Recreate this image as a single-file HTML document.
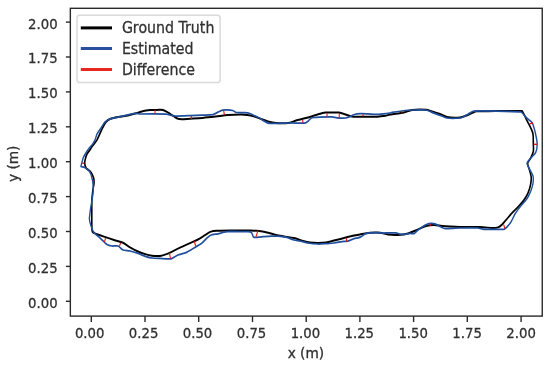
<!DOCTYPE html>
<html lang="en"><head><meta charset="utf-8"><title>Trajectory plot</title>
<style>
html,body{margin:0;padding:0;background:#fff;}
body{width:550px;height:367px;overflow:hidden;}
svg{display:block;filter:blur(0.35px);}
svg text{font-family:"DejaVu Sans","Liberation Sans",sans-serif;font-size:15.7px;fill:#303030;stroke:#303030;stroke-width:0.3px;}
</style></head><body>
<svg width="550" height="367" viewBox="0 0 550 367">
<rect x="0" y="0" width="550" height="367" fill="#ffffff"/>

<g fill="none" stroke-linejoin="round" stroke-linecap="round" transform="scale(0.8,1)">
<path d="M105.88,163.20 C105.75,161.68 106.29,160.16 106.75,158.70 C107.21,157.24 107.92,155.33 108.75,154.00 C109.58,152.67 110.87,151.70 111.88,150.50 C112.88,149.30 114.22,147.44 115.50,146.00 C116.78,144.56 119.65,142.26 121.25,140.00 C122.85,137.74 125.98,131.43 127.50,129.00 C129.02,126.57 131.13,123.37 132.50,122.00 C133.87,120.63 135.66,119.61 137.50,119.00 C139.34,118.39 144.14,117.54 147.50,117.00 C150.86,116.46 157.06,115.87 160.00,115.40 C162.94,114.93 166.24,114.16 168.75,113.60 C171.26,113.04 174.18,112.25 176.25,111.80 C178.32,111.35 180.84,110.87 182.50,110.60 C184.16,110.33 185.82,110.09 187.50,110.00 C189.18,109.91 193.75,109.90 196.25,109.90 C198.75,109.90 201.45,109.54 203.75,110.00 C206.05,110.46 208.12,111.71 210.25,112.70 C212.38,113.69 215.18,115.30 217.00,116.20 C218.82,117.10 220.89,118.34 222.50,118.80 C224.11,119.26 225.83,119.21 227.50,119.20 C229.17,119.19 234.17,118.87 237.50,118.70 C240.83,118.53 248.09,118.25 253.37,117.90 C258.66,117.55 264.08,117.07 269.38,116.60 C274.67,116.13 279.97,115.43 285.25,115.10 C290.53,114.77 298.46,114.62 301.12,114.60 C303.79,114.58 306.48,114.63 309.12,114.90 C311.77,115.17 314.41,115.60 317.00,116.20 C319.59,116.80 322.33,117.83 325.00,118.60 C327.67,119.37 331.70,120.67 335.00,121.40 C338.30,122.13 341.63,122.78 345.00,123.00 C348.37,123.22 356.59,123.33 360.00,123.00 C363.41,122.67 366.65,121.33 370.00,120.60 C373.35,119.87 378.35,119.03 382.50,118.10 C386.65,117.17 392.29,115.67 395.00,115.00 C397.71,114.33 401.89,113.26 403.12,113.00 C404.36,112.74 405.62,112.56 406.88,112.50 C408.13,112.44 412.29,112.38 415.00,112.40 C417.71,112.42 420.99,112.26 423.75,112.60 C426.51,112.94 429.25,113.88 431.88,114.50 C434.50,115.12 437.11,116.02 439.75,116.40 C442.39,116.78 445.08,116.75 447.75,116.80 C450.42,116.85 459.46,116.81 462.50,116.80 C465.54,116.79 468.99,116.81 471.62,116.70 C474.26,116.59 476.89,116.45 479.50,116.10 C482.11,115.75 485.84,114.87 487.50,114.60 C489.16,114.33 490.83,114.21 492.50,114.00 C494.17,113.79 501.62,113.00 505.00,112.40 C508.38,111.80 511.59,110.32 515.00,110.00 C518.41,109.68 529.95,109.66 532.50,109.80 C535.05,109.94 537.51,110.80 540.00,111.40 C542.49,112.00 547.05,113.12 550.00,114.00 C552.95,114.88 555.69,116.58 558.75,117.00 C561.81,117.42 571.58,117.66 575.00,117.40 C578.42,117.14 582.85,115.65 585.00,115.00 C587.15,114.35 589.82,113.00 591.25,112.50 C592.68,112.00 594.11,111.37 595.62,111.30 C597.14,111.23 611.54,111.13 619.50,111.10 C627.46,111.07 651.98,111.08 652.50,111.10 C653.02,111.12 653.32,111.77 653.62,112.20 C653.93,112.63 655.05,114.46 655.75,115.60 C656.45,116.74 657.97,119.35 659.12,121.20 C660.28,123.05 661.73,125.10 662.75,126.80 C663.77,128.50 665.11,130.74 665.62,132.00 C666.14,133.26 666.38,134.64 666.50,136.00 C666.62,137.36 666.60,140.93 666.62,143.40 C666.65,145.87 667.25,148.85 666.62,151.40 C666.00,153.95 663.85,157.07 662.87,158.70 C661.90,160.33 659.69,161.47 659.50,163.30 C659.31,165.13 661.04,167.55 661.75,169.70 C662.46,171.85 663.77,174.46 664.00,177.00 C664.23,179.54 663.78,182.40 663.12,185.00 C662.47,187.60 661.35,190.50 660.00,193.00 C658.65,195.50 656.91,197.86 655.00,200.00 C653.09,202.14 649.92,204.90 647.50,207.00 C645.08,209.10 642.42,210.90 640.00,213.00 C637.58,215.10 634.16,218.46 632.50,220.00 C630.84,221.54 629.04,223.46 627.50,224.60 C625.96,225.74 624.34,226.90 622.50,227.40 C620.66,227.90 617.51,228.04 615.00,228.00 C612.49,227.96 605.01,227.13 600.00,227.00 C594.99,226.87 579.17,227.04 575.00,227.00 C570.83,226.96 565.84,226.75 562.50,226.60 C559.16,226.45 555.83,226.27 552.50,226.00 C549.17,225.73 545.83,225.00 542.50,225.00 C539.17,225.00 535.77,225.28 532.50,226.00 C529.23,226.72 525.84,228.30 522.50,229.40 C519.16,230.50 514.10,232.50 510.00,233.40 C505.90,234.30 501.66,234.72 497.50,234.90 C493.34,235.08 488.37,234.83 485.00,234.50 C481.63,234.17 478.38,232.96 475.00,232.70 C471.62,232.44 466.66,232.50 462.50,232.80 C458.34,233.10 452.50,234.15 450.00,234.50 C447.50,234.85 444.99,235.16 442.50,235.60 C440.01,236.04 434.16,237.17 430.00,238.00 C425.84,238.83 420.83,239.92 417.50,240.60 C414.17,241.28 410.81,242.20 407.50,242.60 C404.19,243.00 400.83,243.00 397.50,243.00 C394.17,243.00 390.81,243.00 387.50,242.60 C384.19,242.20 380.81,241.36 377.50,240.60 C374.19,239.84 370.89,238.63 367.50,238.00 C364.11,237.37 358.34,236.84 355.00,236.40 C351.66,235.96 348.16,235.59 345.00,235.00 C341.84,234.41 338.73,233.43 335.62,232.80 C332.52,232.17 329.40,231.51 326.25,231.20 C323.10,230.89 317.09,230.59 312.50,230.50 C307.91,230.41 292.50,230.37 287.50,230.40 C282.50,230.43 275.43,230.55 272.50,230.70 C269.57,230.85 266.42,230.86 263.75,231.60 C261.08,232.34 258.74,233.99 256.25,235.20 C253.76,236.41 250.49,238.24 247.50,239.50 C244.51,240.76 240.83,241.90 237.50,243.10 C234.17,244.30 229.14,246.03 225.00,247.60 C220.86,249.17 214.55,251.83 212.50,252.60 C210.45,253.37 207.69,254.18 206.25,254.60 C204.81,255.02 203.37,255.53 201.88,255.70 C200.38,255.87 196.67,255.89 195.00,255.90 C193.33,255.91 191.66,256.00 190.00,255.80 C188.34,255.60 184.97,255.01 182.50,254.40 C180.03,253.79 175.78,252.65 172.50,251.50 C169.22,250.35 165.49,248.79 162.50,247.40 C159.51,246.01 156.84,243.94 153.75,242.80 C150.66,241.66 146.24,240.98 142.50,240.00 C138.76,239.02 133.55,237.58 130.00,236.60 C126.45,235.62 120.44,233.93 119.38,233.60 C118.31,233.27 116.95,232.97 116.25,232.40 C115.55,231.83 115.13,230.89 115.00,230.00 C114.87,229.11 114.79,224.67 114.75,222.00 C114.71,219.33 114.73,215.33 114.75,212.00 C114.77,208.67 114.70,202.75 114.88,199.70 C115.05,196.65 115.61,193.05 116.00,190.60 C116.39,188.15 117.36,185.14 117.50,183.30 C117.64,181.46 117.60,179.54 117.00,177.80 C116.40,176.06 115.20,173.92 113.75,172.40 C112.30,170.88 108.56,169.04 107.50,167.80 C106.44,166.56 106.00,164.72 105.88,163.20" stroke="#000000" stroke-width="2.0"/>
<path d="M101.25,166.50 C100.90,166.02 102.01,163.97 102.25,163.20 C102.49,162.43 103.37,158.97 104.00,157.80 C104.63,156.63 107.78,152.48 108.62,151.40 C109.47,150.32 111.97,147.53 112.50,147.00 C113.03,146.47 114.50,145.56 115.00,145.00 C115.50,144.44 118.03,141.27 118.75,140.00 C119.47,138.73 120.45,135.29 121.25,134.00 C122.05,132.71 125.08,129.40 126.25,128.00 C127.42,126.60 129.99,123.01 131.25,122.00 C132.51,120.99 135.95,119.45 137.50,119.00 C139.05,118.55 147.09,117.14 150.00,116.60 C152.91,116.06 160.76,114.68 162.50,114.40 C164.24,114.12 168.83,113.44 170.00,113.40 C171.17,113.36 173.83,113.98 175.00,114.00 C176.17,114.02 206.31,113.97 207.50,114.00 C208.69,114.03 211.33,114.81 212.50,115.00 C213.67,115.19 218.24,115.96 220.00,116.00 C221.76,116.04 233.80,115.70 237.50,115.60 C241.20,115.50 250.40,115.20 253.37,115.10 C256.35,115.00 264.55,114.85 266.12,114.60 C267.70,114.35 271.20,112.59 272.50,112.10 C273.80,111.61 276.87,110.36 278.12,110.10 C279.38,109.84 282.34,109.76 283.62,109.80 C284.91,109.84 289.55,110.23 290.75,110.50 C291.95,110.77 294.41,112.32 295.62,112.50 C296.84,112.68 304.38,112.61 305.87,112.70 C307.37,112.79 310.80,113.14 312.25,113.50 C313.70,113.86 317.14,115.34 318.62,115.90 C320.11,116.46 323.79,117.76 325.00,118.30 C326.21,118.84 328.79,120.45 330.00,121.00 C331.21,121.55 334.70,123.19 336.25,123.40 C337.80,123.61 344.88,123.44 347.50,123.40 C350.12,123.36 359.00,123.03 362.50,123.00 C366.00,122.97 379.53,123.21 380.75,123.10 C381.97,122.99 384.67,121.40 385.50,120.90 C386.33,120.40 387.95,118.69 388.75,118.30 C389.55,117.91 391.61,117.59 392.50,117.50 C393.39,117.41 398.25,117.15 400.00,117.10 C401.75,117.05 413.53,116.85 415.00,116.90 C416.47,116.95 419.78,117.70 421.25,117.80 C422.72,117.90 430.74,118.07 431.88,118.00 C433.01,117.93 435.54,117.24 436.62,116.90 C437.71,116.56 441.45,114.85 443.00,114.50 C444.55,114.15 449.03,113.77 450.87,113.70 C452.72,113.63 457.87,113.84 460.00,113.90 C462.13,113.96 469.02,114.33 471.62,114.30 C474.23,114.27 481.64,113.69 482.75,113.60 C483.86,113.51 486.91,113.10 487.50,113.00 C488.09,112.90 489.41,112.48 490.00,112.40 C490.59,112.32 499.59,111.28 502.50,111.00 C505.41,110.72 512.08,110.10 515.00,110.00 C517.92,109.90 530.07,109.72 532.50,110.00 C534.93,110.28 540.18,112.50 542.50,113.20 C544.82,113.90 551.03,115.57 552.50,116.00 C553.97,116.43 557.22,117.86 558.75,118.00 C560.28,118.14 574.10,118.05 575.00,118.00 C575.90,117.95 577.90,117.32 578.75,117.00 C579.60,116.68 583.54,114.84 585.00,114.20 C586.46,113.56 590.32,111.26 592.12,111.10 C593.93,110.94 613.11,111.00 619.50,111.10 C625.89,111.20 649.81,111.81 651.25,112.00 C652.69,112.19 655.19,115.33 656.00,116.00 C656.81,116.67 658.65,118.19 659.50,118.80 C660.35,119.41 664.02,121.23 665.00,122.40 C665.98,123.57 667.31,127.26 667.87,128.80 C668.44,130.34 669.59,134.30 670.00,136.00 C670.41,137.70 671.53,142.10 671.50,144.00 C671.47,145.90 670.75,150.59 669.75,152.30 C668.75,154.01 663.89,157.68 662.87,158.70 C661.86,159.72 658.88,162.12 658.75,163.30 C658.62,164.48 661.01,167.54 661.75,168.80 C662.49,170.06 665.74,174.35 666.25,176.00 C666.76,177.65 666.51,181.79 666.25,183.40 C665.99,185.01 664.65,188.53 664.00,190.00 C663.35,191.47 661.27,195.01 660.62,196.00 C659.98,196.99 658.32,199.15 657.50,200.00 C656.68,200.85 651.53,205.44 650.00,207.00 C648.47,208.56 645.06,212.25 643.75,214.00 C642.44,215.75 639.76,220.69 638.75,222.00 C637.74,223.31 634.54,226.33 633.75,227.00 C632.96,227.67 631.04,229.31 630.00,229.40 C628.96,229.49 606.78,229.48 605.00,229.40 C603.22,229.32 599.28,228.08 597.50,228.00 C595.72,227.92 579.52,227.95 575.00,228.00 C570.48,228.05 557.18,228.61 555.62,228.50 C554.07,228.39 550.70,226.73 549.38,226.20 C548.05,225.67 545.15,224.06 543.75,223.80 C542.35,223.54 537.35,223.52 536.00,223.70 C534.65,223.88 531.73,225.03 530.50,225.60 C529.27,226.17 523.72,229.25 522.50,230.00 C521.28,230.75 518.61,233.22 517.50,233.60 C516.39,233.98 513.67,233.33 512.50,233.40 C511.33,233.47 507.71,234.21 506.25,234.30 C504.79,234.39 501.20,234.36 500.00,234.20 C498.80,234.04 496.21,232.90 495.00,232.80 C493.79,232.70 486.46,232.87 485.00,232.90 C483.54,232.93 480.21,233.13 478.75,233.10 C477.29,233.06 473.96,232.63 472.50,232.60 C471.04,232.57 464.59,232.71 463.12,232.80 C461.66,232.89 458.26,233.12 456.88,233.60 C455.49,234.08 452.11,236.64 450.50,237.20 C448.89,237.76 444.34,238.14 442.50,238.60 C440.66,239.06 436.10,240.88 434.50,241.20 C432.90,241.52 429.13,241.43 427.50,241.60 C425.87,241.77 419.83,242.77 417.50,243.00 C415.17,243.23 409.83,243.48 407.50,243.60 C405.17,243.72 399.83,244.06 397.50,244.00 C395.17,243.94 387.36,243.31 385.00,243.00 C382.64,242.69 376.74,241.30 375.00,241.00 C373.26,240.70 369.23,240.37 367.50,240.00 C365.77,239.63 359.80,237.64 357.50,237.20 C355.20,236.76 349.54,236.32 347.50,236.20 C345.46,236.08 340.79,236.05 338.75,236.10 C336.71,236.15 330.85,236.56 328.75,236.70 C326.65,236.84 320.43,237.38 319.75,237.40 C319.07,237.42 317.33,237.28 316.88,237.00 C316.42,236.72 316.02,235.46 315.75,235.00 C315.48,234.54 314.82,232.94 314.25,232.60 C313.68,232.26 311.21,231.74 310.25,231.70 C309.29,231.66 289.26,231.37 287.50,231.40 C285.74,231.43 281.74,231.92 280.00,232.20 C278.26,232.48 274.26,233.50 272.50,233.80 C270.74,234.10 265.05,234.60 263.75,235.00 C262.45,235.40 259.86,237.21 258.75,238.00 C257.64,238.79 254.09,242.02 252.50,243.00 C250.91,243.98 244.82,246.89 242.50,248.00 C240.18,249.11 234.76,251.81 232.50,252.60 C230.24,253.39 224.61,254.30 222.50,255.00 C220.39,255.70 215.95,258.47 213.75,258.80 C211.55,259.13 202.33,258.48 200.00,258.40 C197.67,258.32 191.77,258.18 190.00,258.00 C188.23,257.82 184.22,257.05 182.50,256.60 C180.78,256.15 174.81,254.05 172.50,253.40 C170.19,252.75 164.52,251.37 162.50,251.00 C160.48,250.63 155.39,250.55 153.75,250.00 C152.11,249.45 149.10,246.47 147.50,246.00 C145.90,245.53 141.49,246.15 140.00,246.00 C138.51,245.85 135.07,245.30 133.75,244.60 C132.43,243.90 126.73,239.28 125.00,238.00 C123.27,236.72 118.71,233.89 117.50,232.60 C116.29,231.31 114.41,227.56 113.75,226.00 C113.09,224.44 111.89,220.40 111.75,219.00 C111.61,217.60 112.37,213.96 112.50,213.00 C112.63,212.04 112.94,209.85 113.12,208.90 C113.31,207.95 115.13,200.01 115.50,197.90 C115.87,195.79 116.62,190.92 116.62,188.80 C116.62,186.68 116.04,181.71 115.50,179.70 C114.96,177.69 113.18,172.93 112.00,171.50 C110.82,170.07 106.11,167.70 105.25,167.30 C104.39,166.90 101.60,166.98 101.25,166.50" stroke="#1f4e9c" stroke-width="1.75"/>
<path d="M103.0,163.3 L105.6,163.3" stroke="#e6140f" stroke-width="1.35" stroke-linecap="butt"/>
<path d="M193.8,110.0 L193.8,113.6" stroke="#e6140f" stroke-width="1.35" stroke-linecap="butt"/>
<path d="M239.2,116.0 L239.2,119.0" stroke="#e6140f" stroke-width="1.35" stroke-linecap="butt"/>
<path d="M279.5,110.4 L280.5,114.8" stroke="#e6140f" stroke-width="1.35" stroke-linecap="butt"/>
<path d="M378.2,120.0 L378.8,122.8" stroke="#e6140f" stroke-width="1.35" stroke-linecap="butt"/>
<path d="M408.8,113.2 L408.8,116.8" stroke="#e6140f" stroke-width="1.35" stroke-linecap="butt"/>
<path d="M424.1,113.4 L424.1,117.8" stroke="#e6140f" stroke-width="1.35" stroke-linecap="butt"/>
<path d="M453.8,114.2 L453.8,116.2" stroke="#e6140f" stroke-width="1.35" stroke-linecap="butt"/>
<path d="M501.2,110.8 L502.5,112.6" stroke="#e6140f" stroke-width="1.35" stroke-linecap="butt"/>
<path d="M661.7,123.9 L666.2,123.0" stroke="#e6140f" stroke-width="1.35" stroke-linecap="butt"/>
<path d="M667.0,144.3 L671.5,144.3" stroke="#e6140f" stroke-width="1.35" stroke-linecap="butt"/>
<path d="M629.5,224.6 L631.2,228.6" stroke="#e6140f" stroke-width="1.35" stroke-linecap="butt"/>
<path d="M537.5,223.8 L538.1,226.0" stroke="#e6140f" stroke-width="1.35" stroke-linecap="butt"/>
<path d="M433.2,238.0 L433.2,241.6" stroke="#e6140f" stroke-width="1.35" stroke-linecap="butt"/>
<path d="M322.5,230.6 L320.0,236.8" stroke="#e6140f" stroke-width="1.35" stroke-linecap="butt"/>
<path d="M243.0,241.2 L244.5,246.0" stroke="#e6140f" stroke-width="1.35" stroke-linecap="butt"/>
<path d="M211.8,253.0 L213.2,258.6" stroke="#e6140f" stroke-width="1.35" stroke-linecap="butt"/>
<path d="M150.7,243.0 L149.2,246.4" stroke="#e6140f" stroke-width="1.35" stroke-linecap="butt"/>
<path d="M132.0,238.0 L130.5,242.0" stroke="#e6140f" stroke-width="1.35" stroke-linecap="butt"/>
<path d="M115.9,180.6 L117.2,180.6" stroke="#e6140f" stroke-width="1.35" stroke-linecap="butt"/>
</g>
<rect x="70.35" y="8.3" width="471.9" height="307.8" fill="none" stroke="#2a2a2a" stroke-width="1.4"/>
<g stroke="#2a2a2a" stroke-width="1.4">
<line x1="91.3" y1="316.1" x2="91.3" y2="322.1"/>
<line x1="145.0" y1="316.1" x2="145.0" y2="322.1"/>
<line x1="198.7" y1="316.1" x2="198.7" y2="322.1"/>
<line x1="252.5" y1="316.1" x2="252.5" y2="322.1"/>
<line x1="306.2" y1="316.1" x2="306.2" y2="322.1"/>
<line x1="359.9" y1="316.1" x2="359.9" y2="322.1"/>
<line x1="413.6" y1="316.1" x2="413.6" y2="322.1"/>
<line x1="467.3" y1="316.1" x2="467.3" y2="322.1"/>
<line x1="521.1" y1="316.1" x2="521.1" y2="322.1"/>
<line x1="65.9" y1="301.3" x2="70.35" y2="301.3"/>
<line x1="65.9" y1="266.4" x2="70.35" y2="266.4"/>
<line x1="65.9" y1="231.5" x2="70.35" y2="231.5"/>
<line x1="65.9" y1="196.6" x2="70.35" y2="196.6"/>
<line x1="65.9" y1="161.7" x2="70.35" y2="161.7"/>
<line x1="65.9" y1="126.8" x2="70.35" y2="126.8"/>
<line x1="65.9" y1="91.9" x2="70.35" y2="91.9"/>
<line x1="65.9" y1="57.0" x2="70.35" y2="57.0"/>
<line x1="65.9" y1="22.1" x2="70.35" y2="22.1"/>
</g>
<text transform="translate(89.7,338.0) scale(0.915,1)" text-anchor="middle" style="font-size:14.5px">0.00</text>
<text transform="translate(143.6,338.0) scale(0.915,1)" text-anchor="middle" style="font-size:14.5px">0.25</text>
<text transform="translate(197.5,338.0) scale(0.915,1)" text-anchor="middle" style="font-size:14.5px">0.50</text>
<text transform="translate(251.5,338.0) scale(0.915,1)" text-anchor="middle" style="font-size:14.5px">0.75</text>
<text transform="translate(305.4,338.0) scale(0.915,1)" text-anchor="middle" style="font-size:14.5px">1.00</text>
<text transform="translate(359.3,338.0) scale(0.915,1)" text-anchor="middle" style="font-size:14.5px">1.25</text>
<text transform="translate(413.2,338.0) scale(0.915,1)" text-anchor="middle" style="font-size:14.5px">1.50</text>
<text transform="translate(467.1,338.0) scale(0.915,1)" text-anchor="middle" style="font-size:14.5px">1.75</text>
<text transform="translate(521.1,338.0) scale(0.915,1)" text-anchor="middle" style="font-size:14.5px">2.00</text>
<text transform="translate(57.6,307.7) scale(0.915,1)" text-anchor="end" style="font-size:14.5px">0.00</text>
<text transform="translate(57.6,272.8) scale(0.915,1)" text-anchor="end" style="font-size:14.5px">0.25</text>
<text transform="translate(57.6,237.9) scale(0.915,1)" text-anchor="end" style="font-size:14.5px">0.50</text>
<text transform="translate(57.6,203.0) scale(0.915,1)" text-anchor="end" style="font-size:14.5px">0.75</text>
<text transform="translate(57.6,168.1) scale(0.915,1)" text-anchor="end" style="font-size:14.5px">1.00</text>
<text transform="translate(57.6,133.2) scale(0.915,1)" text-anchor="end" style="font-size:14.5px">1.25</text>
<text transform="translate(57.6,98.3) scale(0.915,1)" text-anchor="end" style="font-size:14.5px">1.50</text>
<text transform="translate(57.6,63.4) scale(0.915,1)" text-anchor="end" style="font-size:14.5px">1.75</text>
<text transform="translate(57.6,28.5) scale(0.915,1)" text-anchor="end" style="font-size:14.5px">2.00</text>
<text transform="translate(305.9,357.7) scale(1.03,1)" text-anchor="middle" style="font-size:13.3px">x (m)</text>
<text transform="translate(17.6,163.8) rotate(-90) scale(1.03,1)" text-anchor="middle" style="font-size:13.3px">y (m)</text>
<rect x="77.0" y="15.2" width="143.1" height="67.4" rx="2.6" ry="2.6" fill="#ffffff" fill-opacity="0.8" stroke="#dadada" stroke-width="1.5"/>
<line x1="80.8" y1="27.9" x2="112.0" y2="27.9" stroke="#000000" stroke-width="3.0"/>
<text transform="translate(121.9,33.1) scale(0.903,1)">Ground Truth</text>
<line x1="80.8" y1="48.5" x2="112.0" y2="48.5" stroke="#2a4f9e" stroke-width="3.0"/>
<text transform="translate(121.9,54.1) scale(0.903,1)">Estimated</text>
<line x1="80.8" y1="69.5" x2="112.0" y2="69.5" stroke="#e8281f" stroke-width="3.0"/>
<text transform="translate(121.9,75.2) scale(0.903,1)">Difference</text>
</svg>
</body></html>
